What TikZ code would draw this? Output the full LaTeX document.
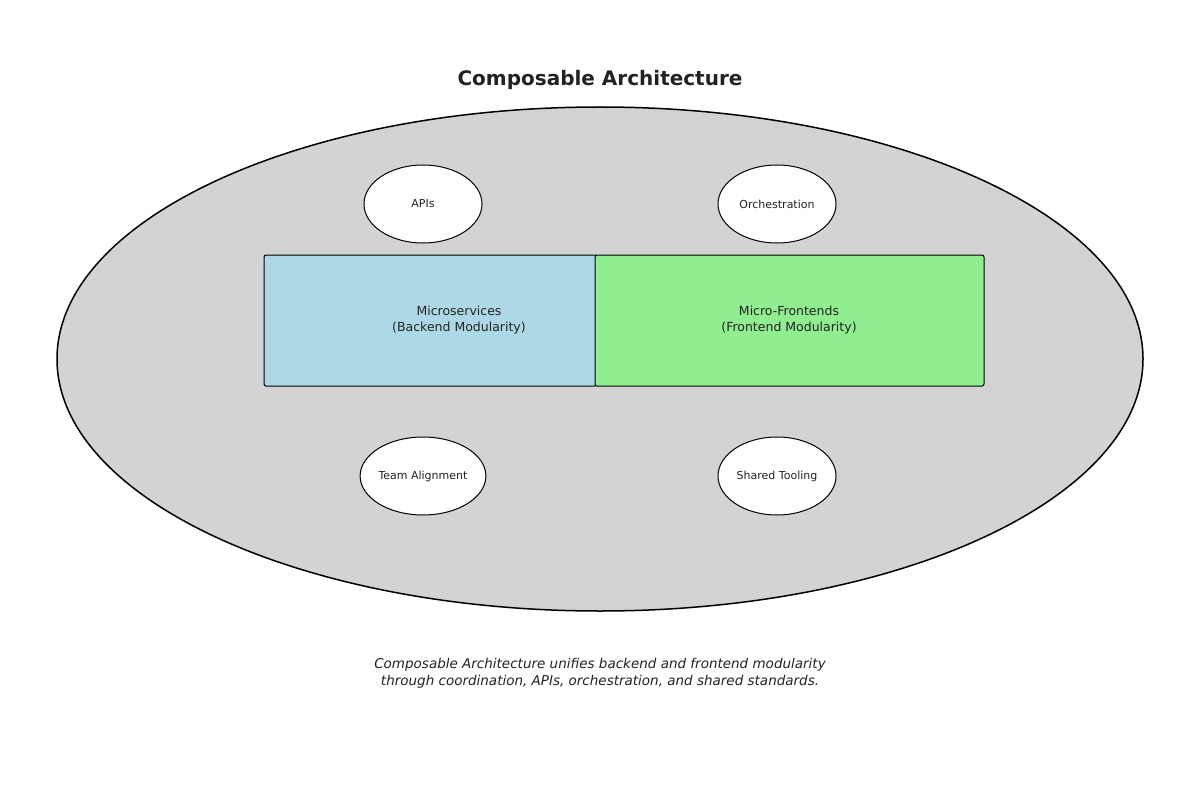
\documentclass[tikz,border=0pt]{standalone}
\usepackage{fontspec}
\setmainfont{DejaVu Sans}
\usetikzlibrary{shapes.geometric}
\definecolor{ovalgray}{HTML}{D3D3D3}
\definecolor{backblue}{HTML}{ADD8E6}
\definecolor{frontgreen}{HTML}{90EE90}
\definecolor{inktext}{HTML}{222222}
\begin{document}
\begin{tikzpicture}[x=1pt,y=-1pt]
		\tikzset{
			aspect/.style={draw=black,fill=white,ellipse,line width=1pt,minimum width=118pt,minimum height=78pt,inner sep=0pt,font=\fontsize{11}{13}\selectfont,text=inktext},
			block/.style={draw=black,rounded corners=2pt,line width=1pt,minimum height=131pt,inner sep=0pt},
			blocktext/.style={align=center,font=\fontsize{12.5}{16}\selectfont,text=inktext}
		}
		\useasboundingbox (0,0) rectangle (1200,797);
		\node (title) at (600,80) {\fontsize{20}{24}\selectfont\bfseries\color{inktext}Composable Architecture};
		\draw [black,fill=ovalgray,line width=1.5pt] (600,359) ellipse (543 and 252);
		\node (apis) [aspect] at (423,204) {APIs};
		\node (orch) [aspect] at (777,204) {Orchestration};
		\node (team) [aspect] at (423,476) {Team Alignment};
		\node (tool) [aspect] at (777,476) {Shared Tooling};
		\node (micro) [block,fill=backblue,minimum width=333pt] at (430.5,320.5) {};
		\node (microtext) [blocktext] at (459,320) {Microservices\\(Backend Modularity)};
		\node (front) [block,fill=frontgreen,minimum width=389pt] at (789.5,320.5) {};
		\node (fronttext) [blocktext] at (789,320) {Micro-Frontends\\(Frontend Modularity)};
		\node (caption) [align=center,font=\fontsize{13.5}{17}\selectfont\itshape,text=inktext] at (600,673) {Composable Architecture unifies backend and frontend modularity\\through coordination, APIs, orchestration, and shared standards.};
	\end{tikzpicture}
\end{document}
